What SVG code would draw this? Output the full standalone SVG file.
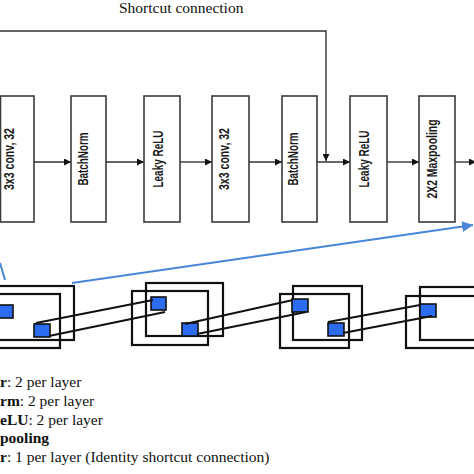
<svg xmlns="http://www.w3.org/2000/svg" width="474" height="474" viewBox="0 0 474 474">
<style>
.box{fill:#fff;stroke:#3a3a3a;stroke-width:1.6}
.lbl{font-family:"Liberation Sans Narrow","Liberation Sans",Arial,sans-serif;font-weight:bold;font-size:14px;fill:#1a1a1a;text-anchor:middle}
.flow{stroke:#333;stroke-width:1.4;fill:none}
.frame{fill:none;stroke:#111;stroke-width:2.2}
.sq{fill:#2b6cf0;stroke:#111;stroke-width:1.6}
.link{stroke:#111;stroke-width:2;fill:none}
.blue{stroke:#4a86d8;stroke-width:2;fill:none}
.serif{font-family:"Liberation Serif","Times New Roman",serif;font-size:15.5px;fill:#111}
</style>
<defs>
<marker id="ah" viewBox="0 0 10 10" refX="10" refY="5" markerWidth="7" markerHeight="7" markerUnits="userSpaceOnUse" orient="auto"><path d="M0,0 L10,5 L0,10 z" fill="#111"/></marker>
<marker id="bh" viewBox="0 0 10 10" refX="10" refY="5" markerWidth="11" markerHeight="11" markerUnits="userSpaceOnUse" orient="auto"><path d="M0,0 L10,5 L0,10 z" fill="#4a86d8"/></marker>
</defs>
<rect width="474" height="474" fill="#fff"/>
<text class="serif" x="119" y="12.5" font-size="16">Shortcut connection</text>
<g id="connectors">
<path class="flow" d="M0,31 H326 V161" marker-end="url(#ah)"/>
<line class="flow" x1="34" y1="162" x2="71" y2="162" marker-end="url(#ah)"/>
<line class="flow" x1="106" y1="162" x2="144" y2="162" marker-end="url(#ah)"/>
<line class="flow" x1="180" y1="162" x2="212" y2="162" marker-end="url(#ah)"/>
<line class="flow" x1="249" y1="162" x2="282" y2="162" marker-end="url(#ah)"/>
<line class="flow" x1="317" y1="162" x2="350" y2="162" marker-end="url(#ah)"/>
<line class="flow" x1="387" y1="162" x2="419" y2="162" marker-end="url(#ah)"/>
<line class="flow" x1="455" y1="162" x2="476" y2="162" marker-end="url(#ah)"/>
<line class="blue" x1="72" y1="283" x2="473" y2="225" marker-end="url(#bh)"/>
<line class="blue" x1="5" y1="280" x2="0" y2="263"/>
</g>
<g id="conv1"><rect class="box" x="0.5" y="96" width="33.5" height="126"/><text class="lbl" transform="translate(8.5,159) rotate(-90)" dy="0.36em" textLength="62" lengthAdjust="spacingAndGlyphs">3x3 conv, 32</text></g>
<g id="bn1"><rect class="box" x="71" y="96" width="35" height="126"/><text class="lbl" transform="translate(83,159) rotate(-90)" dy="0.36em" textLength="53" lengthAdjust="spacingAndGlyphs">BatchNorm</text></g>
<g id="relu1"><rect class="box" x="144" y="96" width="36" height="126"/><text class="lbl" transform="translate(157.5,159) rotate(-90)" dy="0.36em" textLength="57" lengthAdjust="spacingAndGlyphs">Leaky ReLU</text></g>
<g id="conv2"><rect class="box" x="212" y="96" width="37" height="126"/><text class="lbl" transform="translate(224,159) rotate(-90)" dy="0.36em" textLength="62" lengthAdjust="spacingAndGlyphs">3x3 conv, 32</text></g>
<g id="bn2"><rect class="box" x="282" y="96" width="35" height="126"/><text class="lbl" transform="translate(293,159) rotate(-90)" dy="0.36em" textLength="53" lengthAdjust="spacingAndGlyphs">BatchNorm</text></g>
<g id="relu2"><rect class="box" x="350" y="96" width="37" height="126"/><text class="lbl" transform="translate(363.5,159) rotate(-90)" dy="0.36em" textLength="57" lengthAdjust="spacingAndGlyphs">Leaky ReLU</text></g>
<g id="pool"><rect class="box" x="419" y="96" width="36" height="126"/><text class="lbl" transform="translate(432,159) rotate(-90)" dy="0.36em" textLength="79" lengthAdjust="spacingAndGlyphs">2X2 Maxpooling</text></g>
<g id="layers">
<rect class="frame" x="-10" y="286" width="84" height="54"/>
<rect class="frame" x="-10" y="294" width="70" height="54"/>
<rect class="frame" x="146" y="283" width="77" height="53"/>
<rect class="frame" x="132" y="291" width="76" height="54"/>
<rect class="frame" x="293" y="286" width="69" height="54"/>
<rect class="frame" x="280" y="294" width="69" height="54"/>
<rect class="frame" x="420" y="287" width="70" height="53"/>
<rect class="frame" x="406" y="296" width="80" height="52"/>
<rect class="sq" x="-3" y="305" width="16" height="13"/>
<rect class="sq" x="34" y="324" width="16" height="13"/>
<rect class="sq" x="151" y="297" width="15" height="13"/>
<rect class="sq" x="182" y="323" width="16" height="13"/>
<rect class="sq" x="292" y="299" width="16" height="13"/>
<rect class="sq" x="328" y="323" width="16" height="13"/>
<rect class="sq" x="420" y="304" width="16" height="13"/>
<line class="link" x1="36" y1="323" x2="153" y2="300"/>
<line class="link" x1="49" y1="336" x2="165" y2="312"/>
<line class="link" x1="185" y1="324" x2="293" y2="300"/>
<line class="link" x1="197" y1="334" x2="306" y2="312"/>
<line class="link" x1="328" y1="322" x2="420" y2="305"/>
<line class="link" x1="343" y1="333" x2="432" y2="316"/>
</g>
<g id="legend" class="serif">
<text x="0" y="387"><tspan font-weight="bold">r</tspan>: 2 per layer</text>
<text x="0" y="406"><tspan font-weight="bold">rm</tspan>: 2 per layer</text>
<text x="0" y="425"><tspan font-weight="bold">eLU</tspan>: 2 per layer</text>
<text x="0" y="443" font-weight="bold">pooling</text>
<text x="0" y="462"><tspan font-weight="bold">r</tspan>: 1 per layer (Identity shortcut connection)</text>
</g>
</svg>
